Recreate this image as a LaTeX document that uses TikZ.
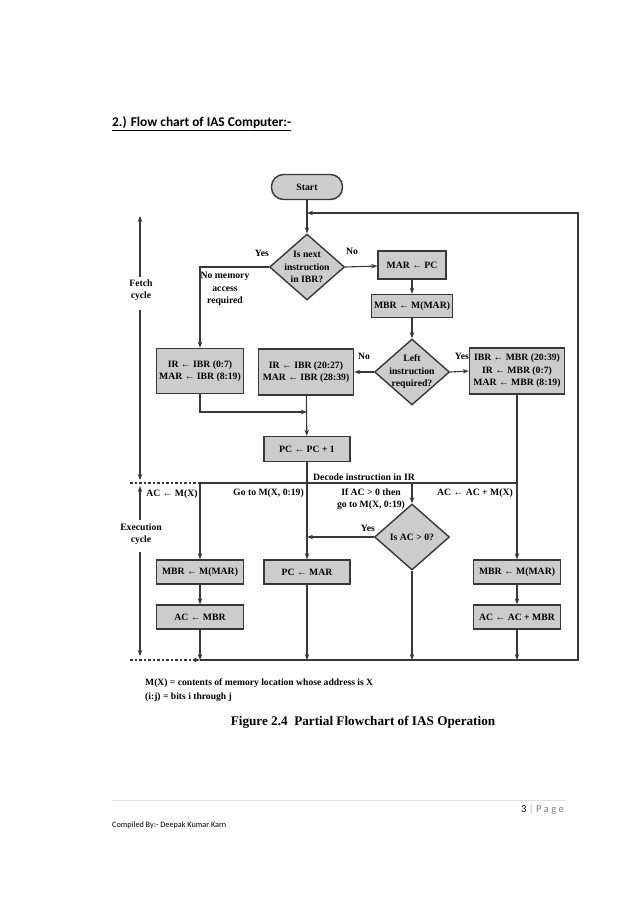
\documentclass[tikz,border=0pt]{standalone}
\usepackage{fontspec}
\setmainfont{Liberation Serif}
\newfontfamily\calibri{Carlito}
\usetikzlibrary{shapes.geometric,arrows.meta}
\definecolor{boxgray}{gray}{0.80}
\definecolor{linegray}{gray}{0.22}

\begin{document}
\begin{tikzpicture}[x=1pt,y=-1pt,
	box/.style={draw=linegray,line width=1.4pt,fill=boxgray,inner sep=1pt,align=center,
		font=\fontsize{9.7}{12.5}\selectfont\bfseries},
	startbox/.style={box,rounded corners=12pt,minimum width=71pt,minimum height=25pt},
	decision/.style={box,diamond,inner sep=-8pt,minimum width=75pt,minimum height=66pt},
	lbl/.style={align=center,inner sep=0pt,font=\fontsize{9.7}{12.5}\selectfont\bfseries},
	arr/.style={draw=linegray,line width=1.1pt,-{Stealth[length=6pt,width=4.5pt]}},
	con/.style={draw=linegray,line width=1.1pt},
	dots/.style={draw=linegray,line width=1.1pt,dash pattern=on 2.5pt off 2pt}]
	\useasboundingbox (0,0) rectangle (638,903);

	% heading
	\draw (112,124) node [anchor=west,inner sep=0pt,font=\calibri\fontsize{13.4}{15}\selectfont\bfseries] (title) {\underline{2.) Flow chart of IAS Computer:-}};

	% fetch part
	\draw node at (307,187) [startbox] (start) {Start};
	\draw node at (307,267) [decision] (nextq) {Is next\\instruction\\in IBR?};
	\draw node at (412,265) [box,minimum width=68pt,minimum height=28pt] (marpc) {MAR ← PC};
	\draw node at (412,306) [box,minimum width=81pt,minimum height=23pt] (mbrm) {MBR ← M(MAR)};
	\draw node at (412,372) [decision] (leftq) {Left\\instruction\\required?};
	\draw node at (200,371) [box,minimum width=87pt,minimum height=45pt] (irl) {IR ← IBR (0:7)\\MAR ← IBR (8:19)};
	\draw node at (306,372) [box,minimum width=95pt,minimum height=46pt] (irr) {IR ← IBR (20:27)\\MAR ← IBR (28:39)};
	\draw node at (517,371) [box,minimum width=95pt,minimum height=46pt] (ibr) {IBR ← MBR (20:39)\\IR ← MBR (0:7)\\MAR ← MBR (8:19)};
	\draw node at (307,449) [box,minimum width=86pt,minimum height=25pt] (pcinc) {PC ← PC + 1};

	% execution part
	\draw node at (200,572) [box,minimum width=87pt,minimum height=24pt] (lmbr) {MBR ← M(MAR)};
	\draw node at (200,617) [box,minimum width=87pt,minimum height=24pt] (acmbr) {AC ← MBR};
	\draw node at (307,572) [box,minimum width=86pt,minimum height=24pt] (pcmar) {PC ← MAR};
	\draw node at (412,537) [decision] (acq) {Is AC > 0?};
	\draw node at (517,572) [box,minimum width=87pt,minimum height=24pt] (rmbr) {MBR ← M(MAR)};
	\draw node at (517,617) [box,minimum width=87pt,minimum height=24pt] (acadd) {AC ← AC + MBR};

	% labels
	\draw (262,253) node [lbl] (yesA) {Yes};
	\draw (352,251) node [lbl] (noA) {No};
	\draw (225,289) node [lbl] (nomem) {No memory\\access\\required};
	\draw (364,356) node [lbl] (noB) {No};
	\draw (462,356) node [lbl] (yesB) {Yes};
	\draw (313,477) node [lbl,anchor=west] (decode) {Decode instruction in IR};
	\draw (172,494) node [lbl] (opload) {AC ← M(X)};
	\draw (304,493) node [lbl,anchor=east] (opjump) {Go to M(X, 0:19)};
	\draw (371,499) node [lbl] (opjumpc) {If AC > 0 then\\go to M(X, 0:19)};
	\draw (475,493) node [lbl] (opadd) {AC ← AC + M(X)};
	\draw (368,528) node [lbl] (yesC) {Yes};
	\draw (141,290) node [lbl] (fetch) {Fetch\\cycle};
	\draw (141,534) node [lbl] (exec) {Execution\\cycle};

	% junction points
	\coordinate (retin) at (307,213);
	\coordinate (retTR) at (578,213);
	\coordinate (retBR) at (578,660);
	\coordinate (botL) at (200,660);
	\coordinate (botPC) at (307,660);
	\coordinate (botAC) at (412,660);
	\coordinate (botR) at (517,660);
	\coordinate (joinA) at (307,412);
	\coordinate (decL) at (200,483);
	\coordinate (decM) at (307,483);
	\coordinate (decQ) at (412,483);
	\coordinate (decR) at (517,483);
	\coordinate (yesin) at (307,537);
	\coordinate (fetchtop) at (140,216);
	\coordinate (fetchbot) at (140,480);
	\coordinate (exectop) at (140,486);
	\coordinate (execbot) at (140,656);
	\coordinate (dashA) at (130,483);
	\coordinate (dashB) at (130,660);

	% connectors
	\draw [arr] (start) -- (nextq);
	\draw [arr] (nextq.east) -- (marpc);
	\draw [arr] (nextq.west) -| (irl.north);
	\draw [arr] (marpc) -- (mbrm);
	\draw [arr] (mbrm) -- (leftq);
	\draw [arr] (leftq.west) -- (irr.east);
	\draw [arr] (leftq.east) -- (ibr.west);
	\draw [arr] (irl.south) |- (joinA);
	\draw [arr] (irr) -- (pcinc);
	\draw [con] (pcinc) -- (decM);
	\draw [con] (decL) -- (decR);
	\draw [arr] (decL) -- (lmbr);
	\draw [arr] (decM) -- (pcmar);
	\draw [arr] (decQ) -- (acq);
	\draw [arr] (ibr) -- (rmbr);
	\draw [arr] (acq.west) -- (yesin);
	\draw [arr] (lmbr) -- (acmbr);
	\draw [arr] (rmbr) -- (acadd);
	\draw [arr] (acmbr) -- (botL);
	\draw [arr] (pcmar) -- (botPC);
	\draw [arr] (acq.south) -- (botAC);
	\draw [arr] (acadd) -- (botR);
	\draw [arr] (botL) -- (retBR) -- (retTR) -- (retin);
	\draw [arr] (140,277) -- (fetchtop);
	\draw [arr] (140,310) -- (fetchbot);
	\draw [arr] (140,520) -- (exectop);
	\draw [arr] (140,552) -- (execbot);
	\draw [dots] (dashA) -- (decL);
	\draw [dots,-{Stealth[length=6pt,width=4.5pt]}] (dashB) -- (botL);

	% notes and caption
	\draw (145,683) node [anchor=west,inner sep=0pt,font=\fontsize{9.6}{11}\selectfont\bfseries] (noteA) {M(X) = contents of memory location whose address is X};
	\draw (145,697) node [anchor=west,inner sep=0pt,font=\fontsize{9.6}{11}\selectfont\bfseries] (noteB) {(i:j) = bits i through j};
	\draw (363,722) node [inner sep=0pt,font=\fontsize{13.2}{15}\selectfont\bfseries] (caption) {Figure 2.4\ \ Partial Flowchart of IAS Operation};

	% footer
	\draw [gray!25,line width=0.6pt] (112,800) -- (565,800);
	\draw (564,810) node [anchor=east,inner sep=0pt,font=\calibri\fontsize{10.5}{12}\selectfont] (pageno) {3 {\color{gray!60}|} {\color{gray}P a g e}};
	\draw (112,825) node [anchor=west,inner sep=0pt,font=\calibri\fontsize{8.2}{10}\selectfont] (author) {Compiled By:- Deepak Kumar Karn};
\end{tikzpicture}
\end{document}
